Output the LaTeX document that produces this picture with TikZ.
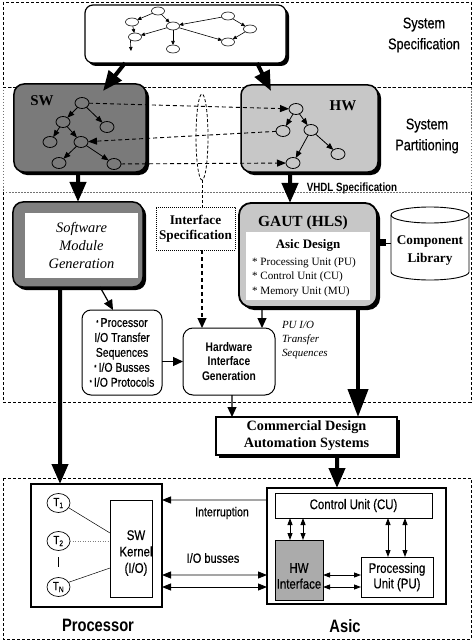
\documentclass[tikz,border=0pt]{standalone}
\usepackage{fontspec}
\setmainfont{Liberation Serif}
\newfontfamily\nsans[FakeStretch=0.82, UprightFeatures={FakeBold=0.4}]{Liberation Sans}
\usetikzlibrary{shapes.geometric,arrows.meta,shadows}
\begin{document}
\begin{tikzpicture}[x=1bp,y=-1bp,
  region/.style={draw, line width=0.8bp, dash pattern=on 3bp off 2bp},
  lregion/.style={draw=black!55, line width=0.5bp, dash pattern=on 1.5bp off 1.5bp},
  shadowed/.style={drop shadow={shadow xshift=3bp, shadow yshift=-3bp, fill=black, opacity=1}},
  plain/.style={inner sep=0pt, outer sep=0pt},
  sanslbl/.style={plain, font=\nsans\fontsize{15.5}{21}\selectfont, align=center},
  gnode/.style={draw, ellipse, plain, minimum width=13bp, minimum height=8bp, line width=0.6bp},
  pnode/.style={draw, ellipse, plain, minimum width=14bp, minimum height=11bp, line width=0.8bp},
  garrow/.style={-{Triangle[length=4bp,width=3.5bp]}, line width=0.6bp},
  parrow/.style={-{Triangle[length=7bp,width=5.5bp]}, line width=0.8bp},
  darrow/.style={-{Triangle[length=9bp,width=7bp]}, line width=0.9bp, dash pattern=on 4bp off 3bp},
  bigarrow/.style={-{Triangle[length=20bp,width=16bp]}, line width=4bp},
  midarrow/.style={-{Triangle[length=10bp,width=9bp]}, line width=1.2bp},
  lowarrow/.style={-{Triangle[length=9bp,width=7bp]}, line width=0.9bp},
  sdbl/.style={{Triangle[length=7bp,width=5bp]}-{Triangle[length=7bp,width=5bp]}, line width=0.9bp},
  dbl/.style={{Triangle[length=9bp,width=7bp]}-{Triangle[length=9bp,width=7bp]}, line width=0.9bp},
  thinbox/.style={draw, plain, line width=0.6bp},
]
\useasboundingbox (0,0) rectangle (474,644);
\fill[white] (0,0) rectangle (474,644);

% regions
\draw[lregion] (3,87) rectangle (471,192);
\draw[region] (3,2) rectangle (471,87);
\draw[region] (3,192) -- (3,402) -- (471,402) -- (471,192);
\draw[region] (3,478) rectangle (471,639);

% ---------- system specification ----------
\node[draw, plain, line width=1.2bp, rounded corners=8bp, fill=white, shadowed,
      minimum width=201bp, minimum height=58bp] (spec) at (185.5,34) {};
\node[gnode] (a) at (158,11) {};
\node[gnode] (b) at (132,22) {};
\node[gnode] (c) at (173,26) {};
\node[gnode] (d) at (228,16) {};
\node[gnode] (e) at (250,29) {};
\node[gnode] (f) at (135,37) {};
\node[gnode] (g) at (228,42) {};
\node[gnode] (h) at (173,49) {};
\coordinate (fo) at (131,51);
\draw[garrow] (a) -- (b);
\draw[garrow] (a) -- (c);
\draw[garrow] (d) -- (c);
\draw[garrow] (d) -- (e);
\draw[garrow] (e) -- (g);
\draw[garrow] (c) -- (f);
\draw[garrow] (c) -- (h);
\draw[garrow] (c) -- (g);
\draw[garrow] (b) -- (f);
\draw[garrow] (f.south west) -- (fo);
\node[sanslbl] (lspec) at (424,35) {System\\Specification};

% ---------- partitioning ----------
\node[draw, plain, line width=1.5bp, rounded corners=10bp, fill=black!52, shadowed,
      minimum width=132bp, minimum height=88bp] (sw) at (80,128) {};
\node[draw, plain, line width=1.5bp, rounded corners=10bp, fill=black!22, shadowed,
      minimum width=137bp, minimum height=87bp] (hw) at (309.5,128.5) {};
\node[plain, font=\bfseries\fontsize{15}{18}\selectfont] (swl) at (42,101) {SW};
\node[plain, font=\bfseries\fontsize{15}{18}\selectfont] (hwl) at (343,106) {HW};
\node[pnode] (s1) at (82,103) {};
\node[pnode] (s2) at (63,122) {};
\node[pnode] (s3) at (107,127) {};
\node[pnode] (s4) at (50,142) {};
\node[pnode] (s5) at (81,142) {};
\node[pnode] (s6) at (59,163) {};
\node[pnode] (s7) at (114,164) {};
\draw[parrow] (s1) -- (s2);
\draw[parrow] (s1) -- (s3);
\draw[parrow] (s2) -- (s4);
\draw[parrow] (s2) -- (s5);
\draw[parrow] (s5) -- (s6);
\draw[parrow] (s5) -- (s7);
\node[pnode] (h1) at (296,109) {};
\node[pnode] (h2) at (283,131) {};
\node[pnode] (h3) at (311,130) {};
\node[pnode] (h4) at (338,154) {};
\node[pnode] (h5) at (293,163) {};
\draw[parrow] (h1) -- (h2);
\draw[parrow] (h1) -- (h3);
\draw[parrow] (h3) -- (h4);
\draw[parrow] (h3) -- (h5);
\node[draw, ellipse, plain, line width=0.8bp, dash pattern=on 3bp off 2bp,
      minimum width=12bp, minimum height=86bp] (ifell) at (202,137) {};
\draw[darrow] (s1) -- (h1);
\draw[darrow] (h2) -- (s5);
\draw[darrow] (s7) -- (h5);
\node[sanslbl] (lpart) at (427,136) {System\\Partitioning};
\draw[bigarrow] ([xshift=-60.5bp]spec.south) -- ([xshift=23bp,yshift=-7bp]sw.north);
\draw[bigarrow] ([xshift=71.5bp]spec.south) -- ([xshift=-38.5bp,yshift=-6bp]hw.north);

% ---------- design ----------
\node[draw, plain, line width=1.5bp, rounded corners=10bp, fill=black!50, shadowed,
      minimum width=130bp, minimum height=85bp] (smg) at (78,244.5) {};
\node[plain, fill=white, minimum width=113bp, minimum height=65bp, align=center,
      font=\itshape\fontsize{14.5}{18.5}\selectfont] (smgin) at (81.5,245.5)
      {Software\\Module\\Generation};
\node[draw, plain, line width=0.6bp, dash pattern=on 1bp off 1bp,
      minimum width=79bp, minimum height=43bp, align=center,
      font=\bfseries\fontsize{13.3}{15}\selectfont] (ispec) at (195.5,228.5)
      {Interface\\Specification};
\node[draw, plain, line width=1.8bp, rounded corners=12bp, fill=black!22, shadowed,
      minimum width=138bp, minimum height=104bp] (gaut) at (308,255) {};
\node[plain, font=\bfseries\fontsize{15.5}{18}\selectfont] (gautt) at (303,223) {GAUT (HLS)};
\node[plain, fill=white, minimum width=124bp, minimum height=68bp] (gautin) at (308,266) {};
\node[plain, font=\bfseries\fontsize{13}{15}\selectfont] (asicd) at (308,245) {Asic Design};
\node[plain, anchor=west, align=left, font=\fontsize{11.2}{14.5}\selectfont] (items) at (252,277)
      {* Processing Unit (PU)\\* Control Unit (CU)\\* Memory Unit (MU)};
\node[plain, minimum width=78bp, minimum height=73bp] (lib) at (430,243.5) {};
\draw[line width=0.9bp, fill=white] (391,215) -- (391,272) arc[start angle=180, end angle=0, x radius=39, y radius=8] -- (469,215);
\draw[line width=0.9bp] (430,215) ellipse [x radius=39, y radius=8];
\node[plain, align=center, font=\bfseries\fontsize{13.3}{18}\selectfont] (libt) at (430,251) {Component\\Library};
\fill (380,239) rectangle (386,246);
\draw[line width=1bp] (lib.west) -- (lib.west -| gaut.east);
\node[plain, font=\nsans\bfseries\fontsize{12}{14}\selectfont] (vhdl) at (352,188) {VHDL Specification};
\draw[bigarrow] ([xshift=-2bp]sw.south) -- ([xshift=0bp]smg.north);
\draw[bigarrow] ([xshift=-19.5bp]hw.south) -- ([xshift=-18bp]gaut.north);
\draw[line width=0.8bp, dash pattern=on 3bp off 2bp] (ifell.south) -- (ifell.south |- ispec.north);

\node[draw, plain, line width=1bp, rounded corners=9bp, fill=white,
      minimum width=80bp, minimum height=85bp, align=center,
      font=\nsans\fontsize{12.8}{15}\selectfont] (plist) at (122,352.5)
      {{\scriptsize\raisebox{2bp}{*}}\,Processor\\I/O Transfer\\Sequences\\{\scriptsize\raisebox{2bp}{*}}\,I/O Busses\\{\scriptsize\raisebox{2bp}{*}}\,I/O Protocols};
\node[draw, plain, line width=1bp, rounded corners=10bp, fill=white,
      minimum width=92bp, minimum height=67bp, align=center,
      font=\nsans\bfseries\fontsize{12.5}{15}\selectfont] (hwig) at (229,361.5)
      {Hardware\\Interface\\Generation};
\node[plain, anchor=west, align=left, font=\itshape\fontsize{11}{14.5}\selectfont] (puio) at (282,340)
      {PU I/O\\Transfer\\Sequences};
\node[draw, plain, line width=1.2bp, fill=white, shadowed,
      minimum width=181bp, minimum height=38bp, align=center,
      font=\bfseries\fontsize{14.3}{17}\selectfont] (cds) at (306.5,436)
      {Commercial Design\\Automation Systems};
\draw[midarrow] ([xshift=22bp]smg.south) -- ([xshift=-9bp]plist.north);
\draw[midarrow] (plist.east |- hwig.west) -- (hwig.west);
\draw[-{Triangle[length=10bp,width=9bp]}, line width=1.2bp, dash pattern=on 4bp off 3bp]
      (ispec.south -| ifell.south) -- (hwig.north -| ifell.south);
\draw[midarrow] ([xshift=-46bp]gaut.south) -- ([xshift=33bp]hwig.north);
\draw[midarrow] ([xshift=3bp]hwig.south) -- ([xshift=-74.5bp]cds.north);
\draw[-{Triangle[length=28bp,width=20bp]}, line width=4bp] ([xshift=50bp]gaut.south) -- ([xshift=51.5bp]cds.north);

% ---------- implementation ----------
\node[draw, plain, line width=1.6bp, minimum width=131bp, minimum height=123bp] (proc) at (96.5,545.5) {};
\node[draw, plain, line width=1.6bp, minimum width=179bp, minimum height=116bp] (asic) at (356.5,546) {};
\draw[bigarrow] ([xshift=-18bp]smg.south) -- ([xshift=-36.5bp]proc.north);
\node[thinbox, minimum width=42bp, minimum height=97bp] (kern) at (131,548.5) {};
\node[plain, align=center, font=\nsans\fontsize{14}{16.5}\selectfont] (kernt) at (136,553) {SW\\Kernel\\(I/O)};
\node[draw, ellipse, plain, line width=0.7bp, minimum width=23bp, minimum height=19bp,
      font=\nsans\fontsize{12}{14}\selectfont] (t1) at (58.5,503) {T\textsubscript{1}};
\node[draw, ellipse, plain, line width=0.7bp, minimum width=23bp, minimum height=19bp,
      font=\nsans\fontsize{12}{14}\selectfont] (t2) at (58.5,541) {T\textsubscript{2}};
\node[draw, ellipse, plain, line width=0.7bp, minimum width=23bp, minimum height=19bp,
      font=\nsans\fontsize{12}{14}\selectfont] (tn) at (58.5,587) {T\textsubscript{N}};
\draw[line width=0.5bp] (t1.-25) -- ([yshift=15.5bp]kern.west);
\draw[line width=0.5bp, black!50, dash pattern=on 1bp off 1.5bp] (t2.east) -- (t2.east -| kern.west);
\draw[line width=0.5bp] (tn.25) -- ([yshift=-19.5bp]kern.west);
\draw[line width=0.7bp] ([yshift=-6.5bp]t2.south) -- ([yshift=10.5bp]tn.north);

\node[thinbox, minimum width=157bp, minimum height=25bp, font=\nsans\fontsize{14}{16}\selectfont] (cu) at (353.5,505.5) {Control Unit (CU)};
\node[thinbox, fill=black!33, minimum width=48bp, minimum height=60bp] (hwi) at (299,570) {};
\node[plain, align=center, font=\nsans\fontsize{14}{16}\selectfont] (hwit) at (299,576) {HW\\Interface};
\node[thinbox, minimum width=72bp, minimum height=40bp, align=center, font=\nsans\fontsize{14}{15.5}\selectfont] (pu) at (397,577) {Processing\\Unit (PU)};
\draw[sdbl] ([xshift=-9bp]hwi.north) -- ([xshift=-9bp]hwi.north |- cu.south);
\draw[sdbl] ([xshift=4bp]hwi.north) -- ([xshift=4bp]hwi.north |- cu.south);
\draw[sdbl] ([xshift=-9bp]pu.north) -- ([xshift=-9bp]pu.north |- cu.south);
\draw[sdbl] ([xshift=8bp]pu.north) -- ([xshift=8bp]pu.north |- cu.south);
\draw[sdbl] ([yshift=-5bp]hwi.east) -- ([yshift=-5bp]hwi.east -| pu.west);
\draw[sdbl] ([yshift=-17bp]hwi.east) -- ([yshift=-17bp]hwi.east -| pu.west);

\draw[lowarrow] ([yshift=46bp]asic.west) -- ([yshift=45.5bp]proc.east);
\node[plain, font=\nsans\fontsize{13}{15}\selectfont] (intr) at (222,513) {Interruption};
\draw[dbl] ([yshift=-29.5bp]proc.east) -- ([yshift=-29bp]asic.west);
\draw[dbl] ([yshift=-41.5bp]proc.east) -- ([yshift=-41bp]asic.west);
\node[plain, font=\nsans\fontsize{13.5}{15}\selectfont] (iob) at (213,558) {I/O busses};
\node[plain, font=\nsans\bfseries\fontsize{18}{20}\selectfont] (lproc) at (98,625) {Processor};
\node[plain, font=\nsans\bfseries\fontsize{18}{20}\selectfont] (lasic) at (345,626) {Asic};
\draw[bigarrow] ([xshift=30.5bp]cds.south) -- ([xshift=-19.5bp]asic.north);
\end{tikzpicture}
\end{document}
